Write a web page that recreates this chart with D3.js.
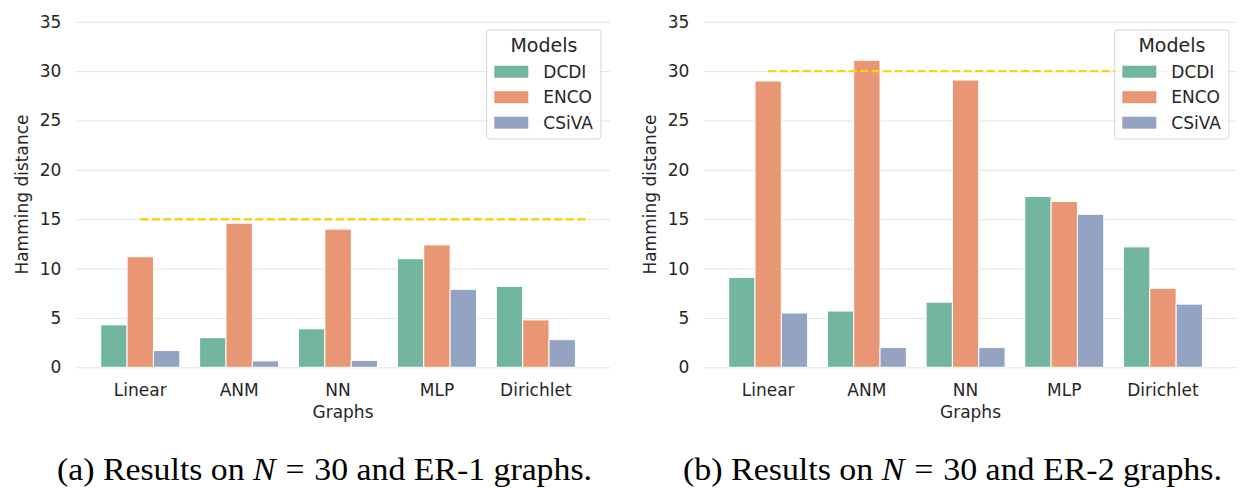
<!DOCTYPE html>
<html>
<head>
<meta charset="utf-8">
<script src="https://cdn.jsdelivr.net/npm/d3@7"></script>
<style>
  html, body { margin: 0; padding: 0; background: #fff; }
  svg text { fill: #262626; }
</style>
</head>
<body>
<div class="chart-area"></div>
<script>
const svgWidth = 1252
const svgHeight = 488

// data
const graphs = ['Linear', 'ANM', 'NN', 'MLP', 'Dirichlet']
const models = ['DCDI', 'ENCO', 'CSiVA']
const yTicks = [0, 5, 10, 15, 20, 25, 30, 35]

const er1DCDI = [4.3, 3.0, 3.9, 11.0, 8.2]
const er1ENCO = [11.2, 14.6, 14.0, 12.4, 4.8]
const er1CSiVA = [1.7, 0.65, 0.7, 7.9, 2.8]
const er1Limit = 15

const er2DCDI = [9.1, 5.7, 6.6, 17.3, 12.2]
const er2ENCO = [29.0, 31.1, 29.1, 16.8, 8.0]
const er2CSiVA = [5.5, 2.0, 2.0, 15.5, 6.4]
const er2Limit = 30

const captionPrefix = ['(a) Results on ', '(b) Results on ']
const captionSuffix = ['30 and ER-1 graphs.', '30 and ER-2 graphs.']

// seaborn Set2, desaturated
const modelColors = ['#72b6a1', '#e99675', '#95a3c3']

const panels = [
  { left: 76, right: 610, series: [er1DCDI, er1ENCO, er1CSiVA], limit: er1Limit, captionX: 57, captionW: 535 },
  { left: 704, right: 1237, series: [er2DCDI, er2ENCO, er2CSiVA], limit: er2Limit, captionX: 683, captionW: 539 },
]

const plotTop = 21.8
const plotBottom = 367.3

var svg = d3
  .select('div.chart-area')
  .append('svg')
  .attr('xmlns', 'http://www.w3.org/2000/svg')
  .attr('width', svgWidth)
  .attr('height', svgHeight)
  .style('font-family', '"DejaVu Sans", sans-serif')

function drawPanel(panel, i) {
  // axis limits are -0.65 .. 4.75 in category units
  const pos = d3.scaleLinear().domain([-0.65, 4.75]).range([panel.left, panel.right])
  const x = d3.scaleBand()
    .domain(graphs)
    .range([pos(-0.5), pos(4.5)])
    .paddingInner(0.2)
    .paddingOuter(0.1)
  const xModel = d3.scaleBand().domain(models).range([0, x.bandwidth()])
  const y = d3.scaleLinear().domain([0, 35]).range([plotBottom, plotTop])

  const g = svg.append('g').attr('class', 'panel-' + i)

  // grid
  g.append('g')
    .attr('transform', `translate(${panel.left},0)`)
    .call(d3.axisLeft(y).tickValues(yTicks).tickSize(-(panel.right - panel.left)).tickFormat(''))
    .call(s => s.select('.domain').remove())
    .call(s => s.selectAll('line').attr('stroke', '#e3e3e3').attr('stroke-width', 1))

  // y ticks
  g.append('g')
    .attr('transform', `translate(${panel.left},0)`)
    .call(d3.axisLeft(y).tickValues(yTicks).tickSize(0).tickPadding(14.7))
    .call(s => s.select('.domain').remove())
    .call(s => s.selectAll('text').attr('font-size', 17).attr('fill', '#262626').style('font-family', '"DejaVu Sans", sans-serif'))

  // x ticks
  g.append('g')
    .attr('transform', `translate(0,${plotBottom})`)
    .call(d3.axisBottom(x).tickSize(0).tickPadding(16.5))
    .call(s => s.select('.domain').remove())
    .call(s => s.selectAll('text').attr('font-size', 17).attr('fill', '#262626').style('font-family', '"DejaVu Sans", sans-serif'))

  // bars
  const rows = graphs.map((name, j) => ({ name, values: models.map((m, k) => ({ model: m, k, value: panel.series[k][j] })) }))
  g.append('g')
    .selectAll('g')
    .data(rows)
    .join('g')
      .attr('transform', d => `translate(${x(d.name)},0)`)
    .selectAll('rect')
    .data(d => d.values)
    .join('rect')
      .attr('x', d => xModel(d.model))
      .attr('y', d => y(d.value))
      .attr('width', xModel.bandwidth())
      .attr('height', d => y(0) - y(d.value))
      .attr('fill', d => modelColors[d.k])
      .attr('stroke', 'white')
      .attr('stroke-width', 1)

  // dashed limit line
  g.append('line')
    .attr('x1', pos(0))
    .attr('x2', pos(4.5))
    .attr('y1', y(panel.limit))
    .attr('y2', y(panel.limit))
    .attr('stroke', '#f8d21a')
    .attr('stroke-width', 2.4)
    .attr('stroke-dasharray', '8,3.5')

  // axis labels
  g.append('text')
    .attr('transform', `translate(${panel.left - 48},${(plotTop + plotBottom) / 2}) rotate(-90)`)
    .attr('text-anchor', 'middle')
    .attr('font-size', 17)
    .text('Hamming distance')

  g.append('text')
    .attr('x', (panel.left + panel.right) / 2)
    .attr('y', 418)
    .attr('text-anchor', 'middle')
    .attr('font-size', 17)
    .text('Graphs')

  // legend
  const lx = panel.left + 410.7
  const legend = g.append('g').attr('transform', `translate(${lx},30)`)
  legend.append('rect')
    .attr('width', 114.3)
    .attr('height', 109)
    .attr('rx', 3)
    .attr('fill', 'white')
    .attr('fill-opacity', 0.8)
    .attr('stroke', '#d6d6d6')
    .attr('stroke-width', 1)
  legend.append('text')
    .attr('x', 57.2)
    .attr('y', 21.7)
    .attr('text-anchor', 'middle')
    .attr('font-size', 19)
    .text('Models')
  const item = legend.selectAll('g.item')
    .data(models)
    .join('g')
      .attr('class', 'item')
      .attr('transform', (d, k) => `translate(0,${41.7 + k * 25.5})`)
  item.append('rect')
    .attr('x', 7.6)
    .attr('y', -6)
    .attr('width', 34)
    .attr('height', 12)
    .attr('fill', (d, k) => modelColors[k])
  item.append('text')
    .attr('x', 56.6)
    .attr('y', 6)
    .attr('font-size', 17)
    .text(d => d)

  // caption, with math spacing around "="
  const cap = g.append('text')
    .attr('x', panel.captionX)
    .attr('y', 480)
    .attr('font-size', 31)
    .attr('textLength', panel.captionW)
    .attr('lengthAdjust', 'spacingAndGlyphs')
    .style('font-family', '"Liberation Serif", "Times New Roman", serif')
    .style('fill', '#000')
  cap.append('tspan').text(captionPrefix[i])
  cap.append('tspan').attr('font-style', 'italic').text('N')
  cap.append('tspan').attr('dx', 9).text('=')
  cap.append('tspan').attr('dx', 9).text(captionSuffix[i])
}

panels.forEach(drawPanel)
</script>
</body>
</html>
